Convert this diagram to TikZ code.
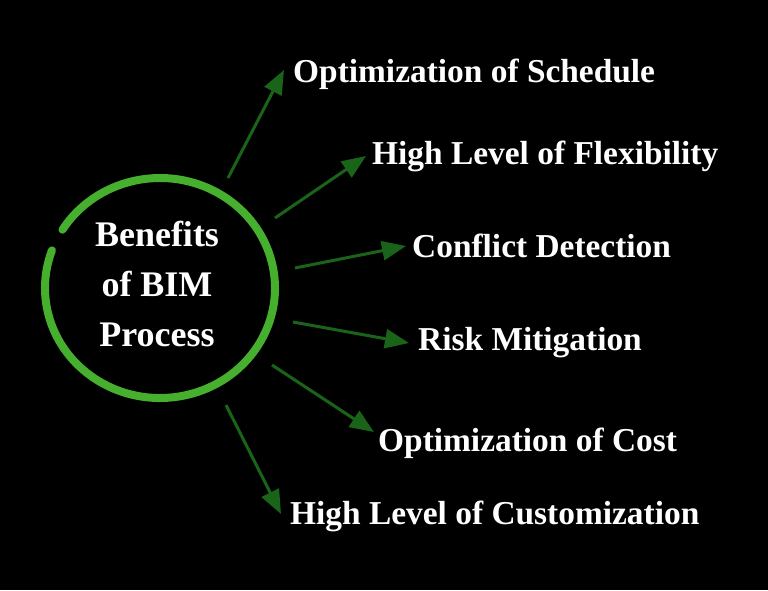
\documentclass[tikz,border=0pt]{standalone}
\usepackage{fontspec}
\setmainfont{Liberation Serif}
\usetikzlibrary{arrows.meta}
\definecolor{ring}{RGB}{70,175,45}
\definecolor{arr}{RGB}{25,100,25}
\begin{document}
\begin{tikzpicture}[x=1pt,y=-1pt,
  lbl/.style={anchor=west,text=white,font=\fontsize{33.4}{36}\selectfont\bfseries,inner sep=0},
  conn/.style={draw=arr,line width=3pt,-{Triangle[length=24pt,width=19pt]}}]
\fill[black] (0,0) rectangle (768,590);
\useasboundingbox (0,0) rectangle (768,590);
\draw[ring,line width=8pt,line cap=round] (160,288) ++(-148:115 and 110) arc[start angle=-148,end angle=200,x radius=115,y radius=110];
\node[text=white,align=center,font=\fontsize{36}{50}\selectfont\bfseries] (c) at (157,284) {Benefits\\of BIM\\Process};
\node[lbl] (l1) at (293,74) {Optimization of Schedule};
\node[lbl] (l2) at (372,156) {High Level of Flexibility};
\node[lbl] (l3) at (412,246) {Conflict Detection};
\node[lbl] (l4) at (418,343) {Risk Mitigation};
\node[lbl] (l5) at (378,443) {Optimization of Cost};
\node[lbl] (l6) at (290,516) {High Level of Customization};
\coordinate (s1) at (228,178); \coordinate (e1) at (284,70);
\coordinate (s2) at (275,218); \coordinate (e2) at (366,156);
\coordinate (s3) at (295,268); \coordinate (e3) at (406,246);
\coordinate (s4) at (293,322); \coordinate (e4) at (409,343);
\coordinate (s5) at (272,365); \coordinate (e5) at (374,432);
\coordinate (s6) at (226,405); \coordinate (e6) at (281,514);
\foreach \i in {1,...,6} \draw[conn] (s\i) -- (e\i);
\end{tikzpicture}
\end{document}
